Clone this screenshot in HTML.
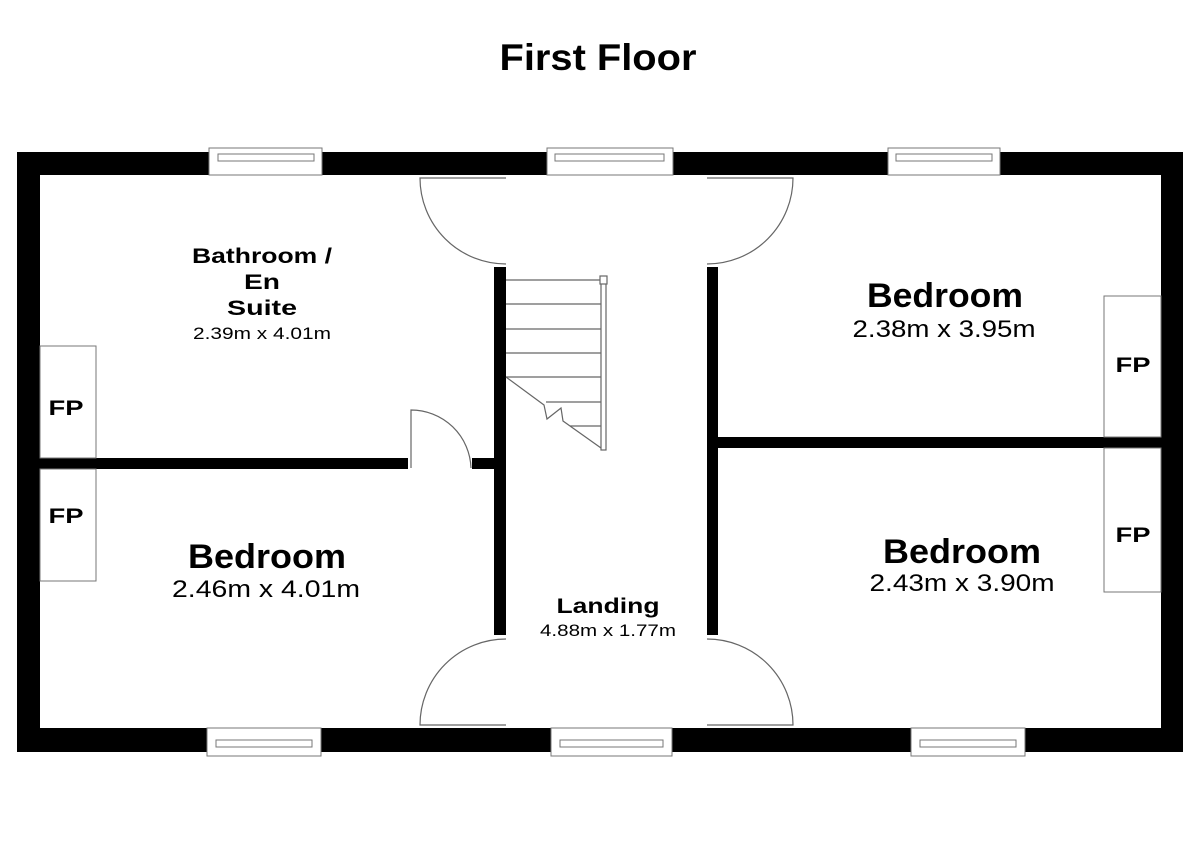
<!DOCTYPE html>
<html><head><meta charset="utf-8"><style>
html,body{margin:0;padding:0;background:#fff;}
svg{display:block;}
text{font-family:"Liberation Sans",Arial,sans-serif;fill:#000;}
.b{font-weight:bold;}
</style></head><body>
<svg width="1200" height="845" viewBox="0 0 1200 845" xmlns="http://www.w3.org/2000/svg">
<rect width="1200" height="845" fill="#fff"/>
<text x="598" y="70" class="b" font-size="37" text-anchor="middle" textLength="197" lengthAdjust="spacingAndGlyphs">First Floor</text>

<rect x="17" y="152" width="1166" height="23" fill="#000"/>
<rect x="17" y="728" width="1166" height="24" fill="#000"/>
<rect x="17" y="152" width="23" height="600" fill="#000"/>
<rect x="1161" y="152" width="22" height="600" fill="#000"/>

<rect x="494" y="267" width="12" height="368" fill="#000"/>
<rect x="707" y="267" width="11" height="368" fill="#000"/>
<rect x="40" y="458" width="368" height="11" fill="#000"/>
<rect x="472" y="458" width="28" height="11" fill="#000"/>
<rect x="718" y="437" width="443" height="11" fill="#000"/>

<g fill="#fff" stroke="#777" stroke-width="1">
<rect x="209" y="148" width="113" height="27"/>
<rect x="218" y="154" width="96" height="7"/>
<rect x="547" y="148" width="126" height="27"/>
<rect x="555" y="154" width="109" height="7"/>
<rect x="888" y="148" width="112" height="27"/>
<rect x="896" y="154" width="96" height="7"/>
<rect x="207" y="728" width="114" height="28"/>
<rect x="216" y="740" width="96" height="7"/>
<rect x="551" y="728" width="121" height="28"/>
<rect x="560" y="740" width="103" height="7"/>
<rect x="911" y="728" width="114" height="28"/>
<rect x="920" y="740" width="96" height="7"/>
<rect x="40" y="346" width="56" height="112"/>
<rect x="40" y="469" width="56" height="112"/>
<rect x="1104" y="296" width="57" height="141"/>
<rect x="1104" y="448" width="57" height="144"/>
</g>

<g fill="none" stroke="#666" stroke-width="1.2">
<path d="M506 178 L420 178 A86 86 0 0 0 506 264"/>
<path d="M707 178 L793 178 A86 86 0 0 1 707 264"/>
<path d="M506 725 L420 725 A86 86 0 0 1 506 639"/>
<path d="M707 725 L793 725 A86 86 0 0 0 707 639"/>
<path d="M411 468 L411 410 A60 60 0 0 1 471 468"/>
<line x1="506" y1="280" x2="601" y2="280"/>
<line x1="506" y1="304" x2="601" y2="304"/>
<line x1="506" y1="329" x2="601" y2="329"/>
<line x1="506" y1="353" x2="601" y2="353"/>
<line x1="506" y1="377" x2="601" y2="377"/>
<line x1="546" y1="402" x2="601" y2="402"/>
<line x1="570" y1="426" x2="601" y2="426"/>
<polyline points="506,377 544,405 547,419 561,408 563,421 601,448"/>
<rect x="601" y="281" width="5" height="169"/>
<rect x="600" y="276" width="7" height="8" fill="#fff"/>
</g>

<g class="b" font-size="21" text-anchor="middle" lengthAdjust="spacingAndGlyphs">
<text x="262" y="263" textLength="140" lengthAdjust="spacingAndGlyphs">Bathroom /</text>
<text x="262" y="289" textLength="36" lengthAdjust="spacingAndGlyphs">En</text>
<text x="262" y="315" textLength="70" lengthAdjust="spacingAndGlyphs">Suite</text>
<text x="608" y="613" textLength="103" lengthAdjust="spacingAndGlyphs">Landing</text>
<text x="66" y="415" textLength="35" lengthAdjust="spacingAndGlyphs">FP</text>
<text x="66" y="523" textLength="35" lengthAdjust="spacingAndGlyphs">FP</text>
<text x="1133" y="372" textLength="35" lengthAdjust="spacingAndGlyphs">FP</text>
<text x="1133" y="542" textLength="35" lengthAdjust="spacingAndGlyphs">FP</text>
</g>
<g font-size="17" text-anchor="middle">
<text x="262" y="339" textLength="138" lengthAdjust="spacingAndGlyphs">2.39m x 4.01m</text>
<text x="608" y="636" textLength="136" lengthAdjust="spacingAndGlyphs">4.88m x 1.77m</text>
</g>
<g class="b" font-size="34" text-anchor="middle">
<text x="267" y="568" textLength="158" lengthAdjust="spacingAndGlyphs">Bedroom</text>
<text x="945" y="307" textLength="156" lengthAdjust="spacingAndGlyphs">Bedroom</text>
<text x="962" y="563" textLength="158" lengthAdjust="spacingAndGlyphs">Bedroom</text>
</g>
<g font-size="24" text-anchor="middle">
<text x="266" y="597" textLength="188" lengthAdjust="spacingAndGlyphs">2.46m x 4.01m</text>
<text x="944" y="337" textLength="183" lengthAdjust="spacingAndGlyphs">2.38m x 3.95m</text>
<text x="962" y="591" textLength="185" lengthAdjust="spacingAndGlyphs">2.43m x 3.90m</text>
</g>
</svg>
</body></html>
